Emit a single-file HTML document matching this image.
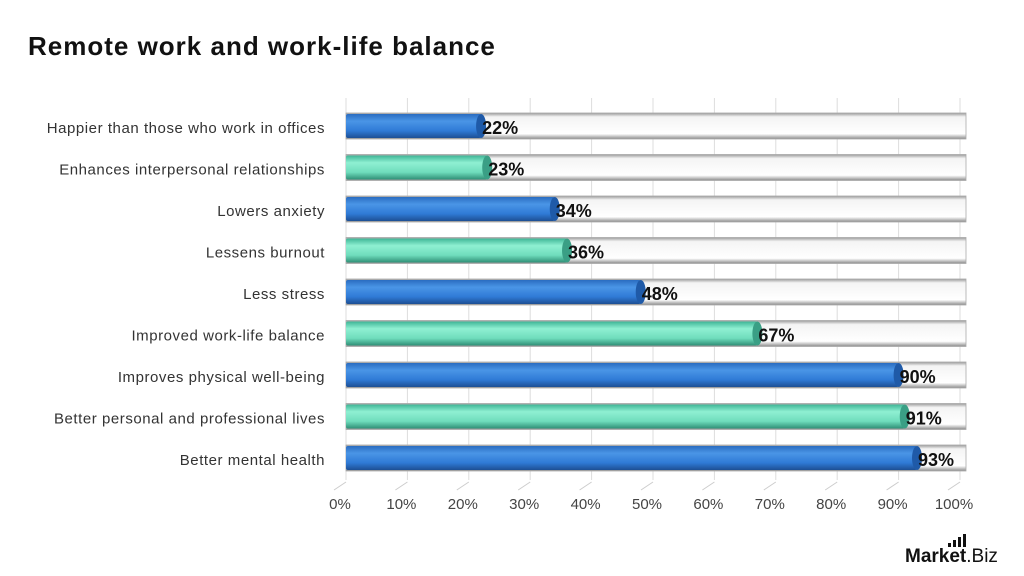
<!DOCTYPE html>
<html><head><meta charset="utf-8"><style>
body{margin:0;background:#fff;}
svg{display:block;font-family:"Liberation Sans",sans-serif;}
</style></head><body>
<svg id="c" width="1024" height="576">
<defs>
<linearGradient id="gb" x1="0" y1="0" x2="0" y2="1"><stop offset="0" stop-color="#2a6cc0"/><stop offset="0.3" stop-color="#4a95e6"/><stop offset="0.7" stop-color="#2f7ad6"/><stop offset="1" stop-color="#1d4f94"/></linearGradient>
<linearGradient id="gt" x1="0" y1="0" x2="0" y2="1"><stop offset="0" stop-color="#3fb596"/><stop offset="0.3" stop-color="#8ff0d2"/><stop offset="0.7" stop-color="#6fdcbc"/><stop offset="1" stop-color="#2f8f76"/></linearGradient>
<linearGradient id="gtr" x1="0" y1="0" x2="0" y2="1"><stop offset="0" stop-color="#9a9a9a"/><stop offset="0.15" stop-color="#f4f4f4"/><stop offset="0.8" stop-color="#ffffff"/><stop offset="1" stop-color="#8a8a8a"/></linearGradient>
</defs>
<text x="28" y="55" font-size="26" font-weight="bold" fill="#111" letter-spacing="1">Remote work and work-life balance</text>
<g id="grid"></g><g id="bars"></g><g id="ticks"></g>
<g>
<text x="905" y="562" font-size="19" font-weight="bold" fill="#111">Market<tspan font-weight="normal">.Biz</tspan></text>
<rect x="948" y="543" width="3" height="4" fill="#111"/><rect x="953" y="540" width="3" height="7" fill="#111"/><rect x="958" y="537" width="3" height="10" fill="#111"/><rect x="963" y="534" width="3" height="13" fill="#111"/>
</g>
</svg>
<script>
const categories=["Happier than those who work in offices","Enhances interpersonal relationships","Lowers anxiety","Lessens burnout","Less stress","Improved work-life balance","Improves physical well-being","Better personal and professional lives","Better mental health"];
const values=[22,23,34,36,48,67,90,91,93];
const tickLabels=["0%","10%","20%","30%","40%","50%","60%","70%","80%","90%","100%"];
const NS="http://www.w3.org/2000/svg";
const x0=346,pw=614,top0=126,step=41.5,bh=24;
const xs=v=>x0+v/100*pw;
const ys=i=>top0+i*step;
function mk(t,a,p){const e=document.createElementNS(NS,t);for(const k in a)e.setAttribute(k,a[k]);p.appendChild(e);return e;}
const grid=document.getElementById('grid'),bars=document.getElementById('bars'),ticks=document.getElementById('ticks');
tickLabels.forEach((t,i)=>{
 const x=xs(i*10);
 const l=mk('line',{x1:x,y1:98,x2:x,y2:480,stroke:'#ddd','stroke-width':1},grid);
 
 
 mk('line',{x1:x,y1:482,x2:x-12,y2:490,stroke:'#ccc'},grid);
 const tx=mk('text',{x:x-6,y:509,'font-size':15,fill:'#444','text-anchor':'middle'},ticks);
 tx.textContent=t;
 
 
});
categories.forEach((c,i)=>{
 const y=ys(i);
 const tr=mk('rect',{x:x0,y:y-13,width:pw+6,height:26,fill:'url(#gtr)',stroke:'#aaa','stroke-width':0.8},bars);
 
 
 const g=i%2==0?'url(#gb)':'url(#gt)';
 const end=xs(values[i]);
 const b=mk('rect',{x:x0,y:y-bh/2,width:end-x0,height:bh,fill:g,rx:2},bars);
 
 
 mk('ellipse',{cx:end,cy:y,rx:5,ry:bh/2,fill:i%2==0?'#1f5aa8':'#3a9f85'},bars);
 const v=mk('text',{x:end+1,y:y+8,'font-size':18,'font-weight':'bold',fill:'#111'},bars);
 v.textContent=values[i]+'%';
 
 
 const lb=mk('text',{x:325,y:y+7,'font-size':15,fill:'#333','text-anchor':'end','letter-spacing':0.55},bars);
 lb.textContent=c;
 
 
});
</script>
</body></html>
